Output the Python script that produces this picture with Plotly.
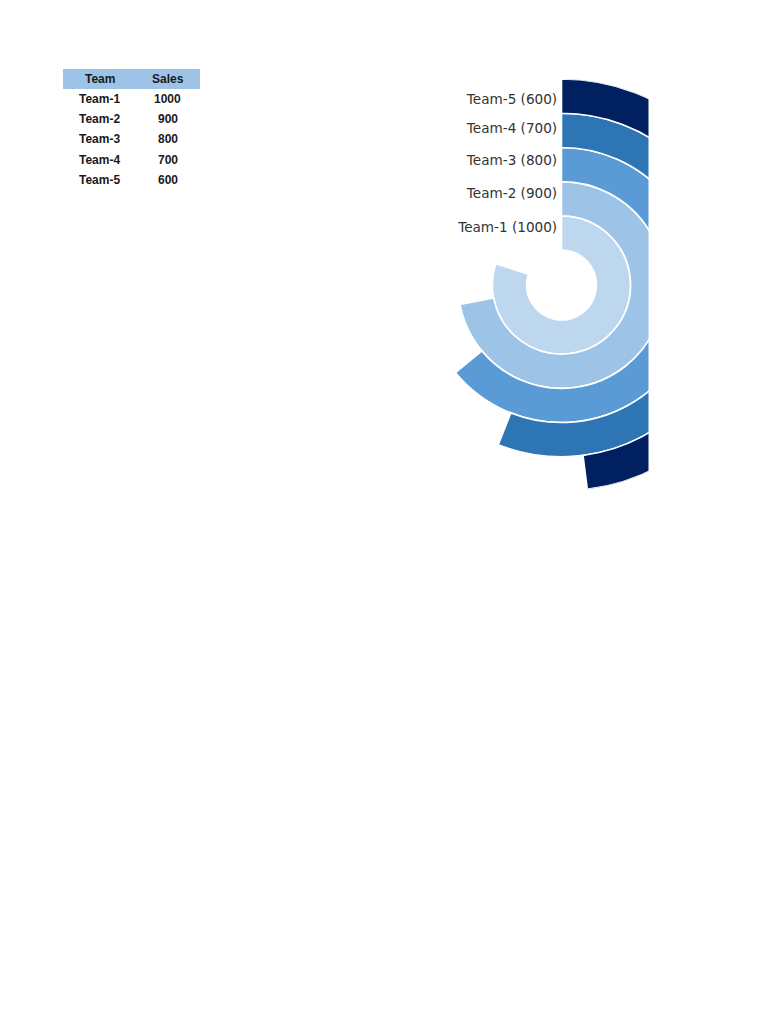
import plotly.graph_objects as go

# ---- data ----
teams = ["Team-1", "Team-2", "Team-3", "Team-4", "Team-5"]
sales = [1000, 900, 800, 700, 600]
table_headers = ["Team", "Sales"]

colors = ["#BDD7EE", "#9DC3E6", "#5B9BD5", "#2E75B6", "#002060"]

# full circle corresponds to max/0.8 (doughnut with hidden remainder)
total = max(sales) / 0.8
angles = [v / total * 360 for v in sales]
hole = 1.02
bases = [hole + i for i in range(len(teams))]
label_shift = [0.14, 0.12, 0.08, 0.01, -0.14]

# page geometry (browser body has an 8px margin)
O = 8
W, H = 768 - O, 1024 - 2 * O


def px(X):
    return (X - O) / W


def py(Y):
    return 1 - (Y - O) / H


fig = go.Figure()

for t, v, a, b, c in zip(teams, sales, angles, bases, colors):
    fig.add_trace(go.Barpolar(
        r=[1], base=[b], theta=[a / 2], width=[a],
        marker=dict(color=c, line=dict(color="white", width=1.6)),
        name=t, showlegend=False, hoverinfo="skip",
    ))

fig.add_trace(go.Scatterpolar(
    r=[b + 0.5 + s for b, s in zip(bases, label_shift)],
    theta=[0] * len(teams),
    mode="text",
    text=[f"{t} ({v})\u00a0" for t, v in zip(teams, sales)],
    textposition="middle left",
    textfont=dict(family="DejaVu Sans", size=13.6, color="#333333"),
    showlegend=False, hoverinfo="skip",
))

# ---- table (header band + text) ----
tbl_font = dict(family="Liberation Sans", size=12, color="#1a1a1a")
col_x = [99.5, 167.5]
header_y = 79
row_y0, row_dy = 99, 20.2
annotations = []
for h, x in zip(table_headers, col_x):
    annotations.append(dict(x=px(x), y=py(header_y), xref="paper", yref="paper",
                            text=f"<b>{h}</b>", showarrow=False, font=tbl_font,
                            xanchor="center", yanchor="middle"))
for i, (t, v) in enumerate(zip(teams, sales)):
    y = row_y0 + i * row_dy
    for val, x in zip([t, str(v)], col_x):
        annotations.append(dict(x=px(x), y=py(y), xref="paper", yref="paper",
                                text=f"<b>{val}</b>", showarrow=False, font=tbl_font,
                                xanchor="center", yanchor="middle"))

cx, cy, R = 561.5, 285, 206
fig.update_layout(
    width=W, height=H,
    margin=dict(l=0, r=0, t=0, b=0),
    paper_bgcolor="white",
    polar=dict(
        domain=dict(x=[px(cx - R), min(1, px(cx + R))],
                    y=[py(cy + R), py(cy - R)]),
        bgcolor="white",
        bargap=0,
        radialaxis=dict(range=[0, hole + len(teams)], visible=False,
                        showgrid=False, showline=False, showticklabels=False),
        angularaxis=dict(rotation=90, direction="clockwise", visible=False,
                         showgrid=False, showline=False, showticklabels=False),
    ),
    shapes=[
        dict(type="rect", xref="paper", yref="paper",
             x0=px(648.5), x1=1, y0=0, y1=1,
             fillcolor="white", line=dict(width=0), layer="above"),
        dict(type="rect", xref="paper", yref="paper",
             x0=px(63), x1=px(200), y0=py(89), y1=py(69),
             fillcolor="#9DC3E6", line=dict(width=0), layer="below"),
    ],
    annotations=annotations,
)

fig.write_html("out.html")
